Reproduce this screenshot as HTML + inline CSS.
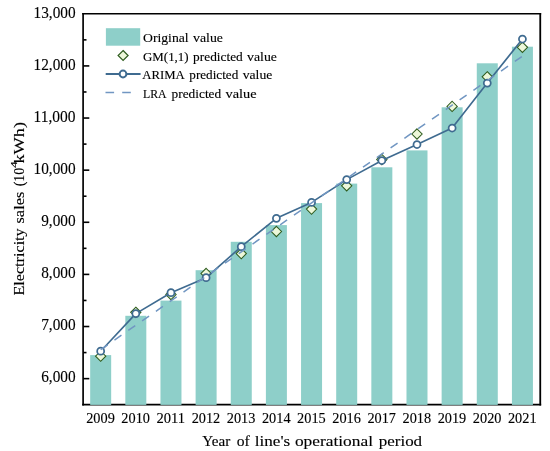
<!DOCTYPE html>
<html><head><meta charset="utf-8"><title>Electricity sales forecast</title>
<style>html,body{margin:0;padding:0;background:#fff;}svg{display:block;}text{font-family:'Liberation Serif', serif;fill:#000;stroke:#000;stroke-width:0.13px;}</style>
</head><body>
<svg width="550" height="451" viewBox="0 0 550 451">
<rect x="0" y="0" width="550" height="451" fill="#ffffff"/>
<line x1="82.20" y1="13.75" x2="541.15" y2="13.75" stroke="#000" stroke-width="1.65"/>
<line x1="82.20" y1="404.70" x2="541.15" y2="404.70" stroke="#000" stroke-width="1.8"/>
<line x1="83.10" y1="13.00" x2="83.10" y2="405.60" stroke="#000" stroke-width="1.68"/>
<line x1="540.25" y1="13.00" x2="540.25" y2="405.60" stroke="#000" stroke-width="1.8"/>
<line x1="83.10" y1="378.64" x2="89.30" y2="378.64" stroke="#000" stroke-width="1.6"/>
<line x1="83.10" y1="352.58" x2="86.50" y2="352.58" stroke="#000" stroke-width="1.6"/>
<line x1="83.10" y1="326.52" x2="89.30" y2="326.52" stroke="#000" stroke-width="1.6"/>
<line x1="83.10" y1="300.46" x2="86.50" y2="300.46" stroke="#000" stroke-width="1.6"/>
<line x1="83.10" y1="274.40" x2="89.30" y2="274.40" stroke="#000" stroke-width="1.6"/>
<line x1="83.10" y1="248.34" x2="86.50" y2="248.34" stroke="#000" stroke-width="1.6"/>
<line x1="83.10" y1="222.28" x2="89.30" y2="222.28" stroke="#000" stroke-width="1.6"/>
<line x1="83.10" y1="196.22" x2="86.50" y2="196.22" stroke="#000" stroke-width="1.6"/>
<line x1="83.10" y1="170.16" x2="89.30" y2="170.16" stroke="#000" stroke-width="1.6"/>
<line x1="83.10" y1="144.10" x2="86.50" y2="144.10" stroke="#000" stroke-width="1.6"/>
<line x1="83.10" y1="118.04" x2="89.30" y2="118.04" stroke="#000" stroke-width="1.6"/>
<line x1="83.10" y1="91.98" x2="86.50" y2="91.98" stroke="#000" stroke-width="1.6"/>
<line x1="83.10" y1="65.92" x2="89.30" y2="65.92" stroke="#000" stroke-width="1.6"/>
<line x1="83.10" y1="39.86" x2="86.50" y2="39.86" stroke="#000" stroke-width="1.6"/>
<rect x="90.17" y="355.10" width="21.00" height="49.80" fill="#8ECFC9"/>
<rect x="125.32" y="315.80" width="21.00" height="89.10" fill="#8ECFC9"/>
<rect x="160.47" y="300.60" width="21.00" height="104.30" fill="#8ECFC9"/>
<rect x="195.61" y="270.20" width="21.00" height="134.70" fill="#8ECFC9"/>
<rect x="230.76" y="241.80" width="21.00" height="163.10" fill="#8ECFC9"/>
<rect x="265.90" y="225.10" width="21.00" height="179.80" fill="#8ECFC9"/>
<rect x="301.05" y="203.10" width="21.00" height="201.80" fill="#8ECFC9"/>
<rect x="336.20" y="183.60" width="21.00" height="221.30" fill="#8ECFC9"/>
<rect x="371.34" y="167.30" width="21.00" height="237.60" fill="#8ECFC9"/>
<rect x="406.49" y="150.40" width="21.00" height="254.50" fill="#8ECFC9"/>
<rect x="441.63" y="107.30" width="21.00" height="297.60" fill="#8ECFC9"/>
<rect x="476.78" y="63.30" width="21.00" height="341.60" fill="#8ECFC9"/>
<rect x="511.93" y="46.70" width="21.00" height="358.20" fill="#8ECFC9"/>
<polygon points="100.67,351.05 105.82,356.20 100.67,361.35 95.52,356.20" fill="#EDF8DA" stroke="#2E5C1E" stroke-width="1.05" stroke-linejoin="miter"/>
<polygon points="135.82,307.15 140.97,312.30 135.82,317.45 130.67,312.30" fill="#EDF8DA" stroke="#2E5C1E" stroke-width="1.05" stroke-linejoin="miter"/>
<polygon points="170.97,289.35 176.12,294.50 170.97,299.65 165.82,294.50" fill="#EDF8DA" stroke="#2E5C1E" stroke-width="1.05" stroke-linejoin="miter"/>
<polygon points="206.11,268.35 211.26,273.50 206.11,278.65 200.96,273.50" fill="#EDF8DA" stroke="#2E5C1E" stroke-width="1.05" stroke-linejoin="miter"/>
<polygon points="241.26,248.45 246.41,253.60 241.26,258.75 236.11,253.60" fill="#EDF8DA" stroke="#2E5C1E" stroke-width="1.05" stroke-linejoin="miter"/>
<polygon points="276.40,226.35 281.55,231.50 276.40,236.65 271.25,231.50" fill="#EDF8DA" stroke="#2E5C1E" stroke-width="1.05" stroke-linejoin="miter"/>
<polygon points="311.55,203.95 316.70,209.10 311.55,214.25 306.40,209.10" fill="#EDF8DA" stroke="#2E5C1E" stroke-width="1.05" stroke-linejoin="miter"/>
<polygon points="346.70,180.65 351.85,185.80 346.70,190.95 341.55,185.80" fill="#EDF8DA" stroke="#2E5C1E" stroke-width="1.05" stroke-linejoin="miter"/>
<polygon points="381.84,154.35 386.99,159.50 381.84,164.65 376.69,159.50" fill="#EDF8DA" stroke="#2E5C1E" stroke-width="1.05" stroke-linejoin="miter"/>
<polygon points="416.99,128.85 422.14,134.00 416.99,139.15 411.84,134.00" fill="#EDF8DA" stroke="#2E5C1E" stroke-width="1.05" stroke-linejoin="miter"/>
<polygon points="452.13,101.25 457.28,106.40 452.13,111.55 446.98,106.40" fill="#EDF8DA" stroke="#2E5C1E" stroke-width="1.05" stroke-linejoin="miter"/>
<polygon points="487.28,71.65 492.43,76.80 487.28,81.95 482.13,76.80" fill="#EDF8DA" stroke="#2E5C1E" stroke-width="1.05" stroke-linejoin="miter"/>
<polygon points="522.43,42.15 527.58,47.30 522.43,52.45 517.28,47.30" fill="#EDF8DA" stroke="#2E5C1E" stroke-width="1.05" stroke-linejoin="miter"/>
<polyline points="100.67,351.20 135.82,313.60 170.97,292.70 206.11,277.70 241.26,246.70 276.40,218.30 311.55,202.40 346.70,179.60 381.84,160.50 416.99,144.50 452.13,128.00 487.28,83.10 522.43,39.00" fill="none" stroke="#3F6B90" stroke-width="1.65" stroke-linejoin="round"/>
<circle cx="100.67" cy="351.20" r="3.5" fill="#fff" stroke="#3F6B90" stroke-width="1.75"/>
<circle cx="135.82" cy="313.60" r="3.5" fill="#fff" stroke="#3F6B90" stroke-width="1.75"/>
<circle cx="170.97" cy="292.70" r="3.5" fill="#fff" stroke="#3F6B90" stroke-width="1.75"/>
<circle cx="206.11" cy="277.70" r="3.5" fill="#fff" stroke="#3F6B90" stroke-width="1.75"/>
<circle cx="241.26" cy="246.70" r="3.5" fill="#fff" stroke="#3F6B90" stroke-width="1.75"/>
<circle cx="276.40" cy="218.30" r="3.5" fill="#fff" stroke="#3F6B90" stroke-width="1.75"/>
<circle cx="311.55" cy="202.40" r="3.5" fill="#fff" stroke="#3F6B90" stroke-width="1.75"/>
<circle cx="346.70" cy="179.60" r="3.5" fill="#fff" stroke="#3F6B90" stroke-width="1.75"/>
<circle cx="381.84" cy="160.50" r="3.5" fill="#fff" stroke="#3F6B90" stroke-width="1.75"/>
<circle cx="416.99" cy="144.50" r="3.5" fill="#fff" stroke="#3F6B90" stroke-width="1.75"/>
<circle cx="452.13" cy="128.00" r="3.5" fill="#fff" stroke="#3F6B90" stroke-width="1.75"/>
<circle cx="487.28" cy="83.10" r="3.5" fill="#fff" stroke="#3F6B90" stroke-width="1.75"/>
<circle cx="522.43" cy="39.00" r="3.5" fill="#fff" stroke="#3F6B90" stroke-width="1.75"/>
<line x1="100.67" y1="349.70" x2="522.43" y2="56.20" stroke="#7196C2" stroke-width="1.5" stroke-dasharray="8.5 8.32"/>
<rect x="105.9" y="28.2" width="34.3" height="17.5" fill="#8ECFC9"/>
<polygon points="123.10,50.50 128.10,55.50 123.10,60.50 118.10,55.50" fill="#EDF8DA" stroke="#2E5C1E" stroke-width="1.2"/>
<line x1="105.7" y1="74" x2="140.6" y2="74" stroke="#3F6B90" stroke-width="2"/>
<circle cx="123" cy="74" r="3.4" fill="#fff" stroke="#3F6B90" stroke-width="2"/>
<line x1="105.5" y1="92.4" x2="131.2" y2="92.4" stroke="#7196C2" stroke-width="1.5" stroke-dasharray="8.6 8.1"/>
<text x="143.00" y="42.40" font-size="13.3" textLength="45.60" lengthAdjust="spacingAndGlyphs">Original</text>
<text x="193.10" y="42.40" font-size="13.3" textLength="29.90" lengthAdjust="spacingAndGlyphs">value</text>
<text x="143.00" y="61.10" font-size="13.3" textLength="45.60" lengthAdjust="spacingAndGlyphs">GM(1,1)</text>
<text x="193.10" y="61.10" font-size="13.3" textLength="49.70" lengthAdjust="spacingAndGlyphs">predicted</text>
<text x="247.10" y="61.10" font-size="13.3" textLength="29.90" lengthAdjust="spacingAndGlyphs">value</text>
<text x="142.20" y="79.30" font-size="13.3" textLength="42.60" lengthAdjust="spacingAndGlyphs">ARIMA</text>
<text x="189.30" y="79.30" font-size="13.3" textLength="49.00" lengthAdjust="spacingAndGlyphs">predicted</text>
<text x="242.70" y="79.30" font-size="13.3" textLength="29.60" lengthAdjust="spacingAndGlyphs">value</text>
<text x="143.00" y="97.90" font-size="13.3" textLength="23.60" lengthAdjust="spacingAndGlyphs">LRA</text>
<text x="171.50" y="97.90" font-size="13.3" textLength="49.70" lengthAdjust="spacingAndGlyphs">predicted</text>
<text x="225.50" y="97.90" font-size="13.3" textLength="31.00" lengthAdjust="spacingAndGlyphs">value</text>
<text x="41.17" y="382.34" font-size="16.8" textLength="34.43" lengthAdjust="spacingAndGlyphs">6,000</text>
<text x="41.17" y="330.22" font-size="16.8" textLength="34.43" lengthAdjust="spacingAndGlyphs">7,000</text>
<text x="41.17" y="278.10" font-size="16.8" textLength="34.43" lengthAdjust="spacingAndGlyphs">8,000</text>
<text x="41.17" y="225.98" font-size="16.8" textLength="34.43" lengthAdjust="spacingAndGlyphs">9,000</text>
<text x="33.52" y="173.86" font-size="16.8" textLength="42.08" lengthAdjust="spacingAndGlyphs">10,000</text>
<text x="33.52" y="121.74" font-size="16.8" textLength="42.08" lengthAdjust="spacingAndGlyphs">11,000</text>
<text x="33.52" y="69.62" font-size="16.8" textLength="42.08" lengthAdjust="spacingAndGlyphs">12,000</text>
<text x="33.52" y="17.50" font-size="16.8" textLength="42.08" lengthAdjust="spacingAndGlyphs">13,000</text>
<text x="86.22" y="422.9" font-size="14.8" textLength="28.6" lengthAdjust="spacingAndGlyphs">2009</text>
<text x="121.37" y="422.9" font-size="14.8" textLength="28.6" lengthAdjust="spacingAndGlyphs">2010</text>
<text x="156.52" y="422.9" font-size="14.8" textLength="28.6" lengthAdjust="spacingAndGlyphs">2011</text>
<text x="191.66" y="422.9" font-size="14.8" textLength="28.6" lengthAdjust="spacingAndGlyphs">2012</text>
<text x="226.81" y="422.9" font-size="14.8" textLength="28.6" lengthAdjust="spacingAndGlyphs">2013</text>
<text x="261.95" y="422.9" font-size="14.8" textLength="28.6" lengthAdjust="spacingAndGlyphs">2014</text>
<text x="297.10" y="422.9" font-size="14.8" textLength="28.6" lengthAdjust="spacingAndGlyphs">2015</text>
<text x="332.25" y="422.9" font-size="14.8" textLength="28.6" lengthAdjust="spacingAndGlyphs">2016</text>
<text x="367.39" y="422.9" font-size="14.8" textLength="28.6" lengthAdjust="spacingAndGlyphs">2017</text>
<text x="402.54" y="422.9" font-size="14.8" textLength="28.6" lengthAdjust="spacingAndGlyphs">2018</text>
<text x="437.68" y="422.9" font-size="14.8" textLength="28.6" lengthAdjust="spacingAndGlyphs">2019</text>
<text x="472.83" y="422.9" font-size="14.8" textLength="28.6" lengthAdjust="spacingAndGlyphs">2020</text>
<text x="507.98" y="422.9" font-size="14.8" textLength="28.6" lengthAdjust="spacingAndGlyphs">2021</text>
<text x="202.30" y="445.90" font-size="15.6" textLength="27.90" lengthAdjust="spacingAndGlyphs">Year</text>
<text x="236.80" y="445.90" font-size="15.6" textLength="13.00" lengthAdjust="spacingAndGlyphs">of</text>
<text x="254.70" y="445.90" font-size="15.6" textLength="35.50" lengthAdjust="spacingAndGlyphs">line&#39;s</text>
<text x="294.90" y="445.90" font-size="15.6" textLength="78.10" lengthAdjust="spacingAndGlyphs">operational</text>
<text x="378.80" y="445.90" font-size="15.6" textLength="43.30" lengthAdjust="spacingAndGlyphs">period</text>
<text transform="translate(24.20,295.60) rotate(-90)" font-size="15.6" textLength="67.30" lengthAdjust="spacingAndGlyphs">Electricity</text>
<text transform="translate(24.20,223.50) rotate(-90)" font-size="15.6" textLength="31.80" lengthAdjust="spacingAndGlyphs">sales</text>
<text transform="translate(24.20,186.30) rotate(-90)" font-size="15.6" textLength="18.40" lengthAdjust="spacingAndGlyphs">(10</text>
<text transform="translate(17.30,168.00) rotate(-90)" font-size="9.2" textLength="6.70" lengthAdjust="spacingAndGlyphs">4</text>
<text transform="translate(24.20,163.50) rotate(-90)" font-size="15.6" textLength="41.50" lengthAdjust="spacingAndGlyphs">kWh)</text>
</svg></body></html>
